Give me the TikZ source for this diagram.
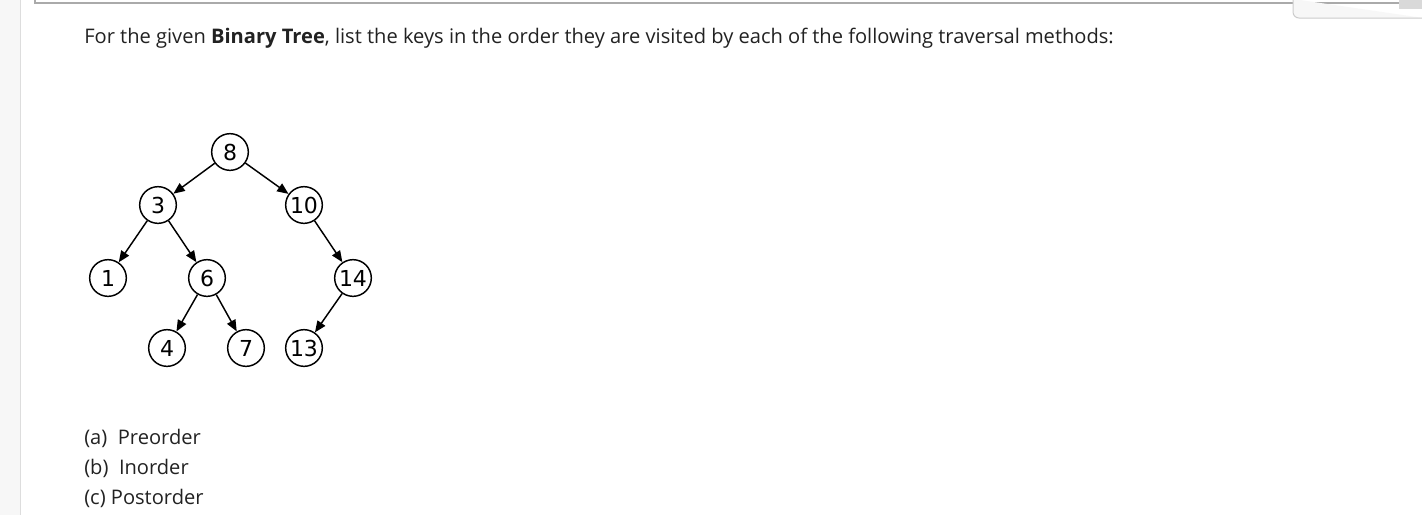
\documentclass[tikz,border=0pt]{standalone}
\usepackage{fontspec}
\setmainfont{Open Sans}
\newfontfamily\keyfont{DejaVu Sans}
\usetikzlibrary{arrows.meta}
\definecolor{pagetext}{HTML}{222222}
\definecolor{rulegray}{HTML}{AAAAAA}
\definecolor{stripgray}{HTML}{F7F7F7}
\definecolor{stripline}{HTML}{DDDDDD}
\tikzset{
  key/.style={draw, circle, line width=1.1pt, minimum size=27.5pt, inner sep=0pt, font=\keyfont\fontsize{16.5}{18}\selectfont},
  edge/.style={-{Triangle[length=8.5pt,width=7pt]}, line width=1.1pt},
  txt/.style={anchor=base west, inner sep=0pt, text=pagetext, font=\fontsize{15.07}{18}\selectfont}
}
\begin{document}
\begin{tikzpicture}[x=0.75pt, y=-0.75pt]
  \useasboundingbox[fill=white] (0,0) rectangle (1422,515);
  % page frame
  \fill[stripgray] (0,0) rectangle (20,515);
  \draw[stripline, line width=0.75pt] (20,0) -- (20,515);
  \draw[rulegray, line width=1pt] (35,0) -- (35,3) -- (1422,3);
  \draw[fill=white!97!black, draw=black!20, line width=0.75pt, rounded corners=4.5pt] (1423,18) -- (1293,18) -- (1293,-1);
  \fill[black!15] (1399,0) rectangle (1422,9);

  % question
  \node[txt] (question) at (84,43) {For the given \textbf{Binary Tree}, list the keys in the order they are visited by each of the following traversal methods:};

  % tree
  \node[key] (k8) at (230,152) {8};
  \node[key] (k3) at (158,205) {3};
  \node[key] (k10) at (304,205) {10};
  \node[key] (k1) at (108,278) {1};
  \node[key] (k6) at (207,278) {6};
  \node[key] (k14) at (353,278) {14};
  \node[key] (k4) at (167,348) {4};
  \node[key] (k7) at (246,348) {7};
  \node[key] (k13) at (304,348) {13};

  \draw[edge] (k8) -- (k3);
  \draw[edge] (k8) -- (k10);
  \draw[edge] (k3) -- (k1);
  \draw[edge] (k3) -- (k6);
  \draw[edge] (k10) -- (k14);
  \draw[edge] (k6) -- (k4);
  \draw[edge] (k6) -- (k7);
  \draw[edge] (k14) -- (k13);

  % parts
  \node[txt] (parta) at (84,444) {(a)\ \hspace{4pt}Preorder};
  \node[txt] (partb) at (84,474) {(b)\ \hspace{4pt}Inorder};
  \node[txt] (partc) at (84,504) {(c) Postorder};
\end{tikzpicture}
\end{document}
